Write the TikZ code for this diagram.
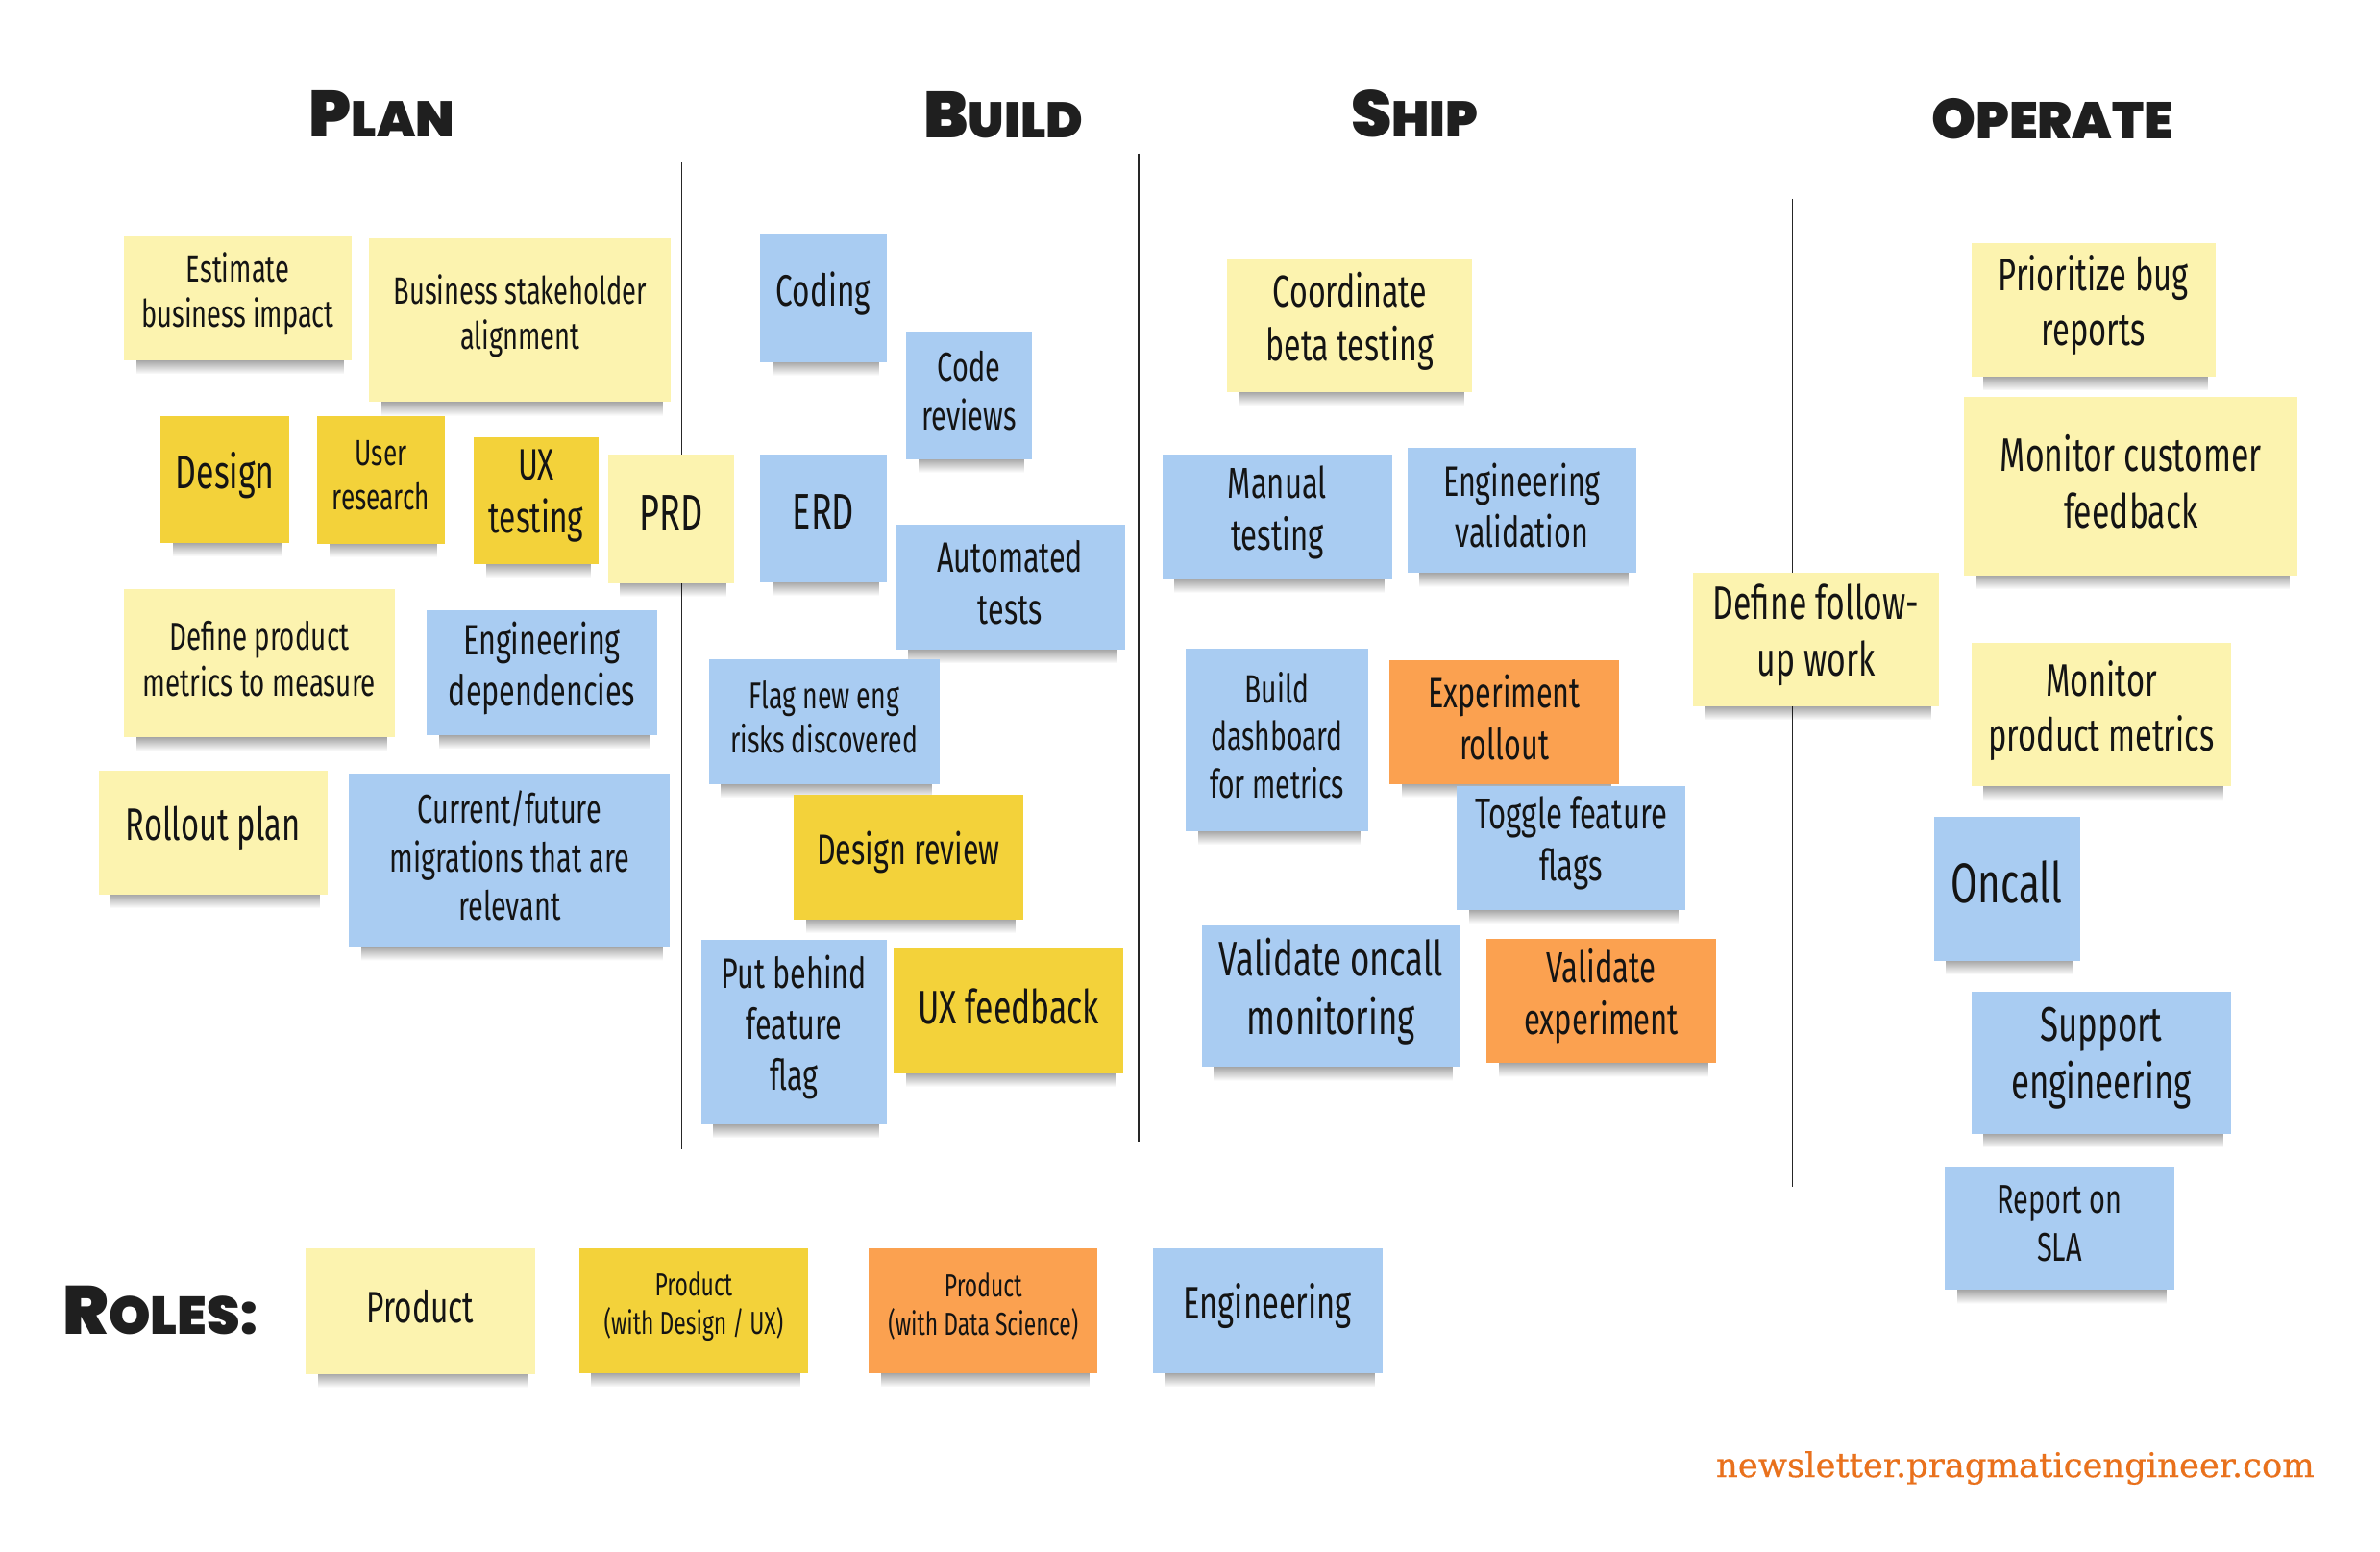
\documentclass[tikz,border=0pt]{standalone}
\usepackage{fontspec}
\usetikzlibrary{fadings}
\newfontfamily\hand{Fira Sans}[FakeStretch=0.69]
\newfontfamily\brush{Poppins}[UprightFont={* Black}]
\newfontfamily\urlfont{DejaVu Serif}[FakeBold=0.5]
\definecolor{ly}{HTML}{FCF3AF}
\definecolor{dy}{HTML}{F3D23A}
\definecolor{bl}{HTML}{A9CCF2}
\definecolor{orn}{HTML}{FBA150}
\definecolor{urlc}{HTML}{E9711C}
\tikzfading[name=shfade, top color=transparent!0, bottom color=transparent!100]
\tikzset{
  notebox/.style={inner sep=0pt},
  notetext/.style={inner sep=0pt, align=center, text=black!92},
  shadowc/.style={fill=black, opacity=0.42, path fading=shfade},
  divider/.style={line width=0.9pt, black!85},
  heading/.style={font=\brush, text=black!88, anchor=base},
}
\newcommand\fsz[1]{\fontsize{#1}{\fpeval{#1*1.2}}\selectfont}
\newcommand\stickynote[8]{%
  \fill[shadowc] ({#2+8},{#5-2}) rectangle ({#4-5},{#5+9});
  \node[notebox, fill=#6, minimum width={#4pt-#2pt}, minimum height={#5pt-#3pt}] (#1) at ({(#2+#4)/2},{(#3+#5)/2}) {};
  \node[notetext, font={\hand\fsz{#7}}, yshift=3pt] (#1-t) at (#1.center) {#8};
}
\begin{document}
\begin{tikzpicture}[x=1pt, y=-1pt]
\fill[white] (0,0) rectangle (1568,1022);
\useasboundingbox (0,0) rectangle (1568,1022);

% headings
\node[heading] (hplan) at (251.6,90) {{\fontsize{43}{43}\selectfont P}{\fontsize{33}{33}\selectfont LAN}};
\node[heading] (hbuild) at (661,91) {{\fontsize{43}{43}\selectfont B}{\fontsize{33}{33}\selectfont UILD}};
\node[heading] (hship) at (932,90) {{\fontsize{43}{43}\selectfont S}{\fontsize{33}{33}\selectfont HIP}};
\node[heading] (hoperate) at (1352,91.5) {{\fontsize{37}{37}\selectfont O}{\fontsize{34}{34}\selectfont PERATE}};
\node[heading] (hroles) at (105.5,879) {{\fontsize{45}{45}\selectfont R}{\fontsize{35}{35}\selectfont OLES:}};

% dividers
\coordinate (d1t) at (449,107); \coordinate (d1b) at (449,757);
\coordinate (d2t) at (750,101); \coordinate (d2b) at (750,752);
\coordinate (d3t) at (1181,131); \coordinate (d3b) at (1181,782);
\draw[divider] (d1t) -- (d1b);
\draw[divider] (d2t) -- (d2b);
\draw[divider] (d3t) -- (d3b);

% PLAN
\stickynote{est}{81.6}{155.6}{231.8}{237.4}{ly}{25}{Estimate\\business impact}
\stickynote{bsa}{243.3}{157.3}{442}{264.9}{ly}{25}{Business stakeholder\\alignment}
\stickynote{design}{106}{274}{190.7}{357.6}{dy}{31}{\raisebox{1.5pt}{Design}}
\stickynote{ures}{209}{274}{293}{358}{dy}{24}{User\\research}
\stickynote{uxt}{312}{288}{394.5}{371.5}{dy}{29}{UX\\testing}
\stickynote{prd}{400.5}{299.7}{483.6}{384}{ly}{33}{\raisebox{2.5pt}{PRD}}
\stickynote{dpm}{81.6}{388}{260.3}{485.8}{ly}{25.5}{Define product\\metrics to measure}
\stickynote{engdep}{281}{402}{433}{484.4}{bl}{28}{Engineering\\dependencies}
\stickynote{rollout}{65}{507.4}{215.6}{589.2}{ly}{30}{Rollout plan}
\stickynote{migr}{230}{509.7}{441.5}{623.7}{bl}{26.5}{Current/future\\migrations that are\\relevant}

% BUILD
\stickynote{coding}{501}{154.6}{584}{238.4}{bl}{29}{Coding}
\stickynote{crev}{597}{218.5}{680}{302.3}{bl}{26.5}{Code\\reviews}
\stickynote{erd}{501}{299.7}{584}{383.4}{bl}{33}{\raisebox{2.5pt}{ERD}}
\stickynote{autot}{590}{345.4}{741}{428}{bl}{28}{Automated\\tests}
\stickynote{flag}{467}{434.4}{619}{516.6}{bl}{24.5}{Flag new eng\\risks discovered}
\stickynote{desrev}{523}{523.5}{674}{605.6}{dy}{28}{Design review}
\stickynote{pbff}{462}{619}{584}{740.7}{bl}{28}{Put behind\\feature\\flag}
\stickynote{uxfb}{589}{624.7}{740}{706.9}{dy}{31}{UX feedback}

% SHIP
\stickynote{cbt}{808.6}{171.2}{969.9}{258.3}{ly}{29.5}{Coordinate\\beta testing}
\stickynote{mant}{765.8}{299.7}{917.3}{381.5}{bl}{28.5}{Manual\\testing}
\stickynote{engval}{927.1}{294.7}{1078.2}{377.5}{bl}{28}{Engineering\\validation}
\stickynote{bdash}{781.2}{427.2}{901.4}{547.5}{bl}{26}{Build\\dashboard\\for metrics}
\stickynote{exproll}{915.3}{434.8}{1066.8}{516.3}{orn}{28}{Experiment\\rollout}
\stickynote{toggle}{959.6}{517.9}{1110.6}{599.4}{bl}{28.5}{Toggle feature\\flags}
\stickynote{voncall}{791.6}{609.3}{962.2}{702.9}{bl}{32}{Validate oncall\\monitoring}
\stickynote{vexp}{979.2}{618.5}{1130.8}{700.3}{orn}{28.5}{Validate\\experiment}

% OPERATE
\stickynote{dfu}{1115.3}{377.5}{1277.6}{465.2}{ly}{31}{Define follow-\\up work}
\stickynote{pbug}{1298.8}{160}{1459.6}{248.3}{ly}{30}{Prioritize bug\\reports}
\stickynote{mcf}{1294.1}{261.3}{1513.7}{379.1}{ly}{31}{Monitor customer\\feedback}
\stickynote{mpm}{1298.8}{423.8}{1470}{518}{ly}{30}{Monitor\\product metrics}
\stickynote{oncall}{1274}{538}{1370.4}{632.9}{bl}{37}{\raisebox{3pt}{Oncall}}
\stickynote{supeng}{1298.8}{653.3}{1470}{747}{bl}{32}{Support\\engineering}
\stickynote{sla}{1281.3}{768.3}{1432.3}{849.8}{bl}{26.5}{Report on\\SLA}

% ROLES
\stickynote{rprod}{201.5}{822.5}{352.5}{905}{ly}{29}{Product}
\stickynote{rdes}{381.5}{822.5}{532.5}{904.7}{dy}{21}{Product\\(with Design / UX)}
\stickynote{rds}{572.5}{822}{723}{904.7}{orn}{21}{Product\\(with Data Science)}
\stickynote{reng}{759.6}{822.5}{910.6}{904.7}{bl}{30}{Engineering}

% footer
\node[anchor=base east, font={\urlfont\fontsize{22.4}{25}\selectfont}, text=urlc, inner sep=0pt] (url) at (1525,973) {newsletter.pragmaticengineer.com};
\end{tikzpicture}
\end{document}
